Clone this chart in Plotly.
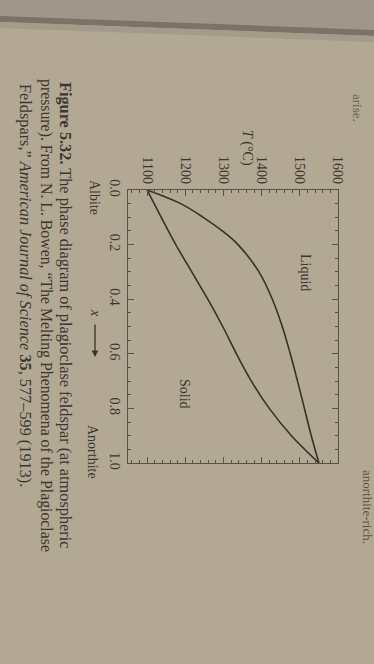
import plotly.graph_objects as go

# ---- data ----
liq_x = [0.0, 0.05, 0.10, 0.15, 0.20, 0.30, 0.40, 0.50, 0.60, 0.70, 0.80, 0.90, 1.0]
liq_T = [1100, 1188, 1247, 1297, 1338, 1393, 1428, 1454, 1475, 1494, 1512, 1530, 1550]
sol_x = [0.0, 0.10, 0.20, 0.30, 0.40, 0.50, 0.60, 0.70, 0.80, 0.90, 1.0]
sol_T = [1100, 1137, 1175, 1217, 1259, 1298, 1334, 1373, 1420, 1478, 1550]
T_ticks = [1100, 1200, 1300, 1400, 1500, 1600]
x_ticks = [0.0, 0.2, 0.4, 0.6, 0.8, 1.0]
x_ticktext = ["0.0", "0.2", "0.4", "0.6", "0.8", "1.0"]

W, H = 374, 664
L, R, T, B = 128, 36, 190, 201
PW, PH = W - L - R, H - T - B

def px(x):
    return (x - L) / PW

def py(y):
    return (H - B - y) / PH

INK = "#38312a"
TXT = "#3d362e"
PAPER = "#b2a893"
SERIF = "Liberation Serif"

fig = go.Figure()
fig.add_trace(go.Scatter(x=liq_T, y=liq_x, mode="lines", line=dict(color=INK, width=1.6, shape="spline"),
                         hoverinfo="skip", showlegend=False))
fig.add_trace(go.Scatter(x=sol_T, y=sol_x, mode="lines", line=dict(color=INK, width=1.6, shape="spline"),
                         hoverinfo="skip", showlegend=False))

axcommon = dict(showgrid=False, zeroline=False, showline=True, linecolor="#5a5248", linewidth=1,
                mirror="allticks", ticks="inside", tickcolor="#5a5248", tickwidth=1, ticklen=6,
                tickfont=dict(family=SERIF, size=14, color=TXT), tickangle=90)

fig.update_xaxes(range=[1050, 1600], side="top", tickvals=T_ticks,
                 minor=dict(dtick=20, tick0=1000, ticks="inside", ticklen=3, tickcolor="#5a5248"),
                 **axcommon)
fig.update_yaxes(range=[1, 0], tickvals=x_ticks, ticktext=x_ticktext,
                 minor=dict(dtick=0.05, tick0=0, ticks="inside", ticklen=3, tickcolor="#5a5248"),
                 **axcommon)

ann = []
def txt(x, y, s, size=14, color=TXT):
    ann.append(dict(x=px(x), y=py(y), xref="paper", yref="paper", text=s, showarrow=False,
                    textangle=90, font=dict(family=SERIF, size=size, color=color),
                    xanchor="center", yanchor="middle"))

txt(247, 148, "<i>T</i> (°C)", 14)
txt(306, 272, "Liquid", 14)
txt(185, 394, "Solid", 14)
txt(95, 197, "Albite", 14)
txt(93, 452, "Anorthite", 14)
txt(96, 313, "<i>x</i>", 14)
ann.append(dict(x=px(95), y=py(357), xref="paper", yref="paper", ax=0, ay=-34, axref="pixel", ayref="pixel",
                text="", showarrow=True, arrowhead=2, arrowsize=1, arrowwidth=1.3, arrowcolor=INK))

cap1 = "<b>Figure 5.32.</b> The phase diagram of plagioclase feldspar (at atmospheric"
cap2 = "pressure). From N. L. Bowen, “The Melting Phenomena of the Plagioclase"
cap3 = "Feldspars,” <i>American Journal of Science</i> <b>35</b>, 577–599 (1913)."
txt(66, 315, cap1, 16.3)
txt(46, 315, cap2, 15.8)
txt(26, 285, cap3, 16.3)

txt(368, 507, "anorthite-rich.", 13, "#5a5247")
txt(357, 108, "arise.", 13, "#6a6256")

shapes = []
# dark curled page edge at top
shapes.append(dict(type="path", xref="paper", yref="paper",
                   path=f"M {px(0)},{py(0)} L {px(374)},{py(0)} L {px(374)},{py(33)} L {px(0)},{py(20)} Z",
                   fillcolor="#a0978a", line=dict(width=0), layer="below"))
shapes.append(dict(type="line", xref="paper", yref="paper", x0=px(0), y0=py(19), x1=px(374), y1=py(33),
                   line=dict(color="#7c7367", width=6), layer="below"))
shapes.append(dict(type="line", xref="paper", yref="paper", x0=px(0), y0=py(25), x1=px(374), y1=py(39),
                   line=dict(color="#a59b8b", width=6), layer="below"))

fig.update_layout(width=W, height=H, autosize=False,
                  margin=dict(l=L, r=R, t=T, b=B, pad=0),
                  paper_bgcolor=PAPER, plot_bgcolor=PAPER,
                  annotations=ann, shapes=shapes, showlegend=False)

fig.write_html("out.html", config={"displayModeBar": False})
